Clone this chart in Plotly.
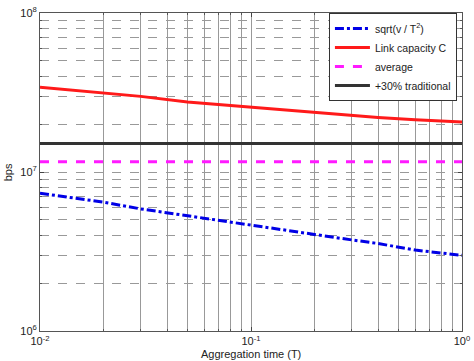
import plotly.graph_objects as go

T = [0.01, 0.02, 0.03, 0.05, 0.1, 0.2, 0.3, 0.4, 0.6, 1.0]
sqrt_v = [7.35e6, 6.46e6, 5.86e6, 5.3e6, 4.6e6, 4.04e6, 3.74e6, 3.55e6, 3.23e6, 2.99e6]
link_cap = [3.41e7, 3.14e7, 2.99e7, 2.76e7, 2.56e7, 2.38e7, 2.27e7, 2.2e7, 2.13e7, 2.06e7]
average = [1.16e7] * len(T)
traditional = [1.51e7] * len(T)

names = ["sqrt(v / T<sup>2</sup>)", "Link capacity C", "average", "+30% traditional"]

fig = go.Figure()
fig.add_trace(go.Scatter(x=T, y=sqrt_v, mode="lines", name=names[0],
                         line=dict(color="#0000e6", width=3, dash="dashdot")))
fig.add_trace(go.Scatter(x=T, y=link_cap, mode="lines", name=names[1],
                         line=dict(color="#ff1a1a", width=3)))
fig.add_trace(go.Scatter(x=T, y=average, mode="lines", name=names[2],
                         line=dict(color="#ff1aff", width=3, dash="dash")))
fig.add_trace(go.Scatter(x=T, y=traditional, mode="lines", name=names[3],
                         line=dict(color="#333333", width=3)))

x_minor = [k * 10 ** e for e in (-2, -1) for k in range(2, 10)]
y_minor = [k * 10 ** e for e in (6, 7) for k in range(2, 10)]

fig.update_layout(
    width=474, height=361,
    margin=dict(l=40, r=12, t=13, b=30),
    paper_bgcolor="white", plot_bgcolor="white",
    font=dict(family="Liberation Sans, Arial", size=11, color="#222"),
    showlegend=True,
    legend=dict(x=0.988, y=1.0, xanchor="right", yanchor="top",
                bgcolor="white", bordercolor="#333", borderwidth=1,
                font=dict(size=10.5), tracegroupgap=0, itemwidth=35),
    xaxis=dict(type="log", range=[-2, 0], tickvals=[0.01, 0.1, 1],
               ticktext=["10<sup>-2</sup>", "10<sup>-1</sup>", "10<sup>0</sup>"],
               showgrid=True, gridcolor="#999", gridwidth=1, automargin=False,
               ticks="inside", ticklen=4, mirror="ticks", showline=True,
               linecolor="#555", linewidth=1, zeroline=False,
               minor=dict(tickvals=x_minor, showgrid=True, gridcolor="#999",
                          ticks="inside", ticklen=2, tickcolor="#555")),
    yaxis=dict(type="log", range=[6, 8], tickvals=[1e6, 1e7, 1e8],
               ticktext=["10<sup>6</sup>", "10<sup>7</sup>", "10<sup>8</sup>"],
               showgrid=True, gridcolor="#999", griddash="dash", gridwidth=1,
               automargin=False,
               ticks="inside", ticklen=4, mirror="ticks", showline=True,
               linecolor="#555", linewidth=1, zeroline=False,
               minor=dict(tickvals=y_minor, showgrid=True, gridcolor="#999",
                          griddash="dash", ticks="inside", ticklen=2, tickcolor="#555")),
    annotations=[
        dict(text="Aggregation time (T)", xref="paper", yref="paper", x=0.5, y=-0.048,
             xanchor="center", yanchor="top", showarrow=False, font=dict(size=11)),
        dict(text="bps", xref="paper", yref="paper", x=-0.075, y=0.5, textangle=-90,
             xanchor="center", yanchor="middle", showarrow=False, font=dict(size=11)),
    ],
)

fig.write_html("out.html", config={"displayModeBar": False},
               post_script="document.body.style.margin='0px';")
